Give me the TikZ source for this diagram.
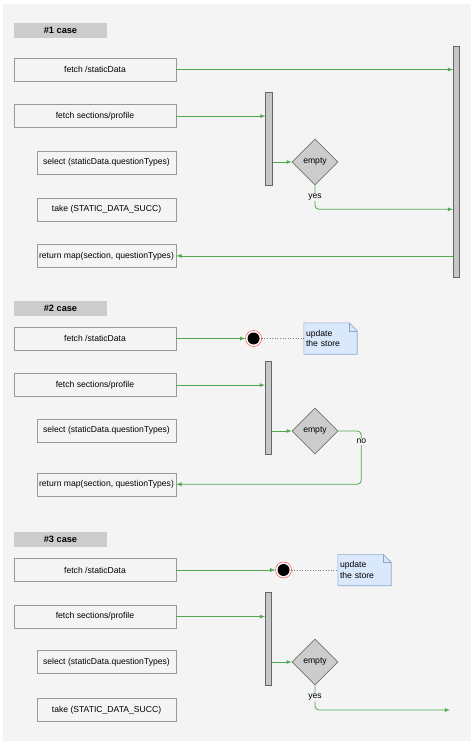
\documentclass[tikz,border=0pt]{standalone}
\usepackage{fontspec}
\setmainfont{Liberation Sans}
\usetikzlibrary{positioning,shapes.geometric,calc}

\definecolor{bggray}{HTML}{F4F4F4}
\definecolor{flowgreen}{HTML}{4FA84F}
\definecolor{notebg}{HTML}{DAE8FC}
\definecolor{noteline}{HTML}{8EA6CF}

\begin{document}
\begin{tikzpicture}[x=1pt,y=-1pt,font=\fontsize{8.6}{10.5}\selectfont]
\tikzstyle{act}=[rectangle, draw=black!40, fill=bggray, line width=0.6pt, minimum height=23pt, inner sep=1pt]
\tikzstyle{wide}=[act, minimum width=162pt]
\tikzstyle{narrow}=[act, minimum width=139pt]
\tikzstyle{head}=[rectangle, fill=black!20, minimum width=93pt, minimum height=15pt, font=\fontsize{9.2}{10}\selectfont\bfseries]
\tikzstyle{bar}=[rectangle, draw=black!60, fill=black!22, line width=0.6pt, minimum width=6.5pt, inner sep=0pt]
\tikzstyle{choice}=[diamond, draw=black!55, fill=black!20, line width=0.6pt, minimum size=46pt, inner sep=0pt, aspect=1]
\tikzstyle{stop}=[circle, draw=red!70, fill=white, line width=0.5pt, minimum size=16pt, inner sep=0pt, path picture={\fill[black] (path picture bounding box.center) circle (6pt);}]
\tikzstyle{note}=[rectangle, fill=notebg, minimum width=53pt, minimum height=31pt, text width=49pt, align=left, inner sep=2pt]
\tikzstyle{connect}=[-latex, draw=flowgreen, line width=0.8pt]
\tikzstyle{lbl}=[fill=bggray, inner sep=1pt]
  \useasboundingbox[fill=white] (0,0) rectangle (474,745);
  \fill[bggray] (3,4) rectangle (471,741);
% #1 case
  \node[head] (head1) at (60.5,30.5) {\#1 case};
  \node[wide] (fetch1) at (95,69.5) {fetch /staticData};
  \node[wide] (prof1) [below=23pt of fetch1] {fetch sections/profile};
  \node[narrow] (sel1) [below=23pt of prof1.south east, anchor=north east] {select (staticData.questionTypes)};
  \node[narrow] (take1) [below=23pt of sel1] {take (STATIC\_DATA\_SUCC)};
  \node[narrow] (ret1) [below=23pt of take1] {return map(section, questionTypes)};
  \node[bar, minimum height=231pt] (bigbar1) at (456.5,161.5) {};
  \node[bar, minimum height=93pt] (bar1) at (269,138.5) {};
  \node[choice] (dia1) at (315,162) {empty};
  \path (fetch1) edge [connect] (fetch1 -| bigbar1.west)
        (prof1) edge [connect] (prof1 -| bar1.west)
        (bar1.east |- dia1) edge [connect] (dia1)
        (bigbar1.west |- ret1) edge [connect] (ret1);
  \draw[connect, rounded corners=4pt] (dia1.south) |- (take1 -| bigbar1.west) node[lbl, pos=0.24] {yes};
% #2 case
  \node[head] (head2) at (60.5,308) {\#2 case};
  \node[wide] (fetch2) at (95,338.5) {fetch /staticData};
  \node[wide] (prof2) [below=23pt of fetch2] {fetch sections/profile};
  \node[narrow] (sel2) [below=22pt of prof2.south east, anchor=north east] {select (staticData.questionTypes)};
  \node[narrow] (ret2) [below=30pt of sel2] {return map(section, questionTypes)};
  \node[stop] (end2) [right=69pt of fetch2] {};
  \node[note] (note2) [right=42pt of end2] {update\\the store};
  \fill[bggray] (note2.north east) -- +(-8,0) -- +(0,8) -- cycle;
  \draw[noteline, line width=0.6pt] (note2.north west) -- ($(note2.north east)+(-8,0)$) -- ($(note2.north east)+(0,8)$) -- (note2.south east) -- (note2.south west) -- cycle;
  \draw[noteline, line width=0.4pt] ($(note2.north east)+(-8,0)$) -- ++(0,8) -- ++(8,0);
  \node[bar, minimum height=93pt] (bar2) at (268.5,407.5) {};
  \node[choice] (dia2) at (315,431) {empty};
  \draw[connect] (fetch2) -- (end2);
  \path (prof2) edge [connect] (prof2 -| bar2.west)
        (bar2.east |- dia2) edge [connect] (dia2);
  \draw[dotted, black!50, line width=0.6pt] (end2) -- (note2);
  \draw[connect, rounded corners=4pt] (dia2.east) -- ++(23,0) |- (ret2.east) node[lbl, pos=0.1] {no};
% #3 case
  \node[head] (head3) at (60.5,539) {\#3 case};
  \node[wide] (fetch3) at (95,570) {fetch /staticData};
  \node[wide] (prof3) [below=23pt of fetch3] {fetch sections/profile};
  \node[narrow] (sel3) [below=22pt of prof3.south east, anchor=north east] {select (staticData.questionTypes)};
  \node[narrow] (take3) [below=24pt of sel3] {take (STATIC\_DATA\_SUCC)};
  \node[stop] (end3) [right=99pt of fetch3] {};
  \node[note] (note3) [right=46pt of end3] {update\\the store};
  \fill[bggray] (note3.north east) -- +(-8,0) -- +(0,8) -- cycle;
  \draw[noteline, line width=0.6pt] (note3.north west) -- ($(note3.north east)+(-8,0)$) -- ($(note3.north east)+(0,8)$) -- (note3.south east) -- (note3.south west) -- cycle;
  \draw[noteline, line width=0.4pt] ($(note3.north east)+(-8,0)$) -- ++(0,8) -- ++(8,0);
  \node[bar, minimum height=93pt] (bar3) at (268.5,638.5) {};
  \node[choice] (dia3) at (315,662) {empty};
  \coordinate (out3) at (450,710);
  \draw[connect] (fetch3) -- (end3);
  \path (prof3) edge [connect] (prof3 -| bar3.west)
        (bar3.east |- dia3) edge [connect] (dia3);
  \draw[dotted, black!50, line width=0.6pt] (end3) -- (note3);
  \draw[connect, rounded corners=4pt] (dia3.south) |- (out3) node[lbl, pos=0.24] {yes};
\end{tikzpicture}
\end{document}
